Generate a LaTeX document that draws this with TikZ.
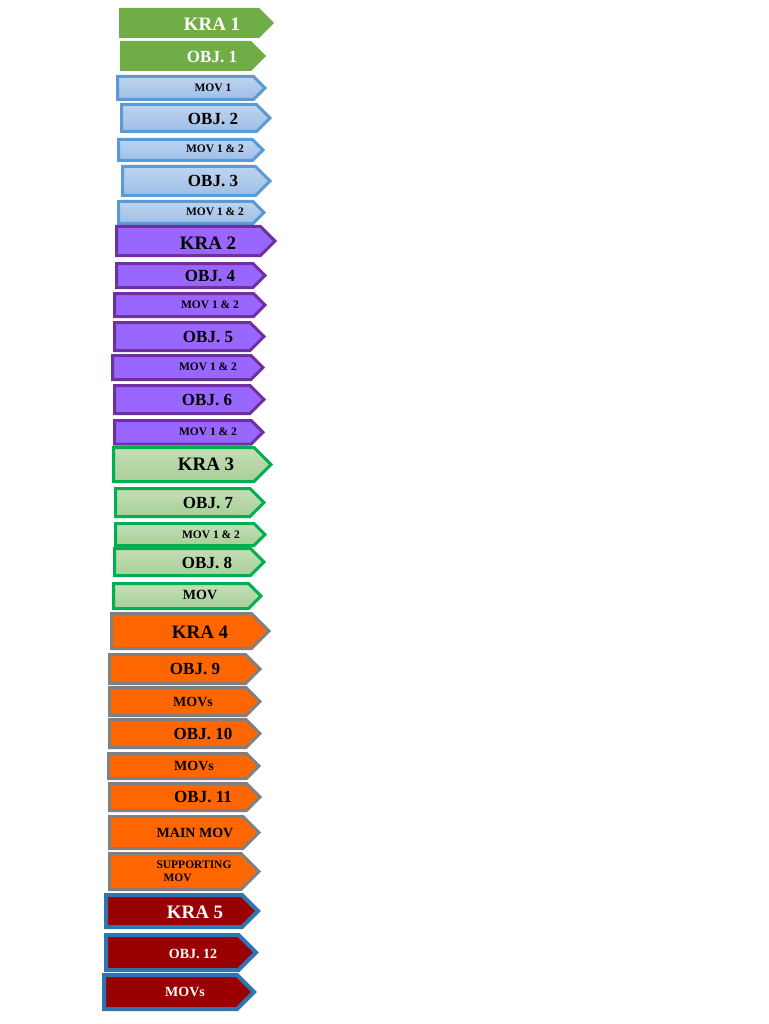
\documentclass[tikz,border=0pt]{standalone}
\usepackage{fontspec}
\setmainfont{Liberation Serif}
\usepackage{tikz}
\usetikzlibrary{shapes}

\definecolor{kragreen}{HTML}{70AD47}
\definecolor{blueedge}{HTML}{5B9BD5}
\definecolor{bluetop}{HTML}{BED4F0}
\definecolor{bluebot}{HTML}{9FBEE6}
\definecolor{purplefill}{HTML}{9966FF}
\definecolor{purpleedge}{HTML}{7030A0}
\definecolor{greenedge}{HTML}{00B050}
\definecolor{greentop}{HTML}{C3DEB6}
\definecolor{greenbot}{HTML}{A8CF98}
\definecolor{orangefill}{HTML}{FF6600}
\definecolor{grayedge}{HTML}{808080}
\definecolor{redfill}{HTML}{990000}
\definecolor{rededge}{HTML}{2E75B6}

% arrow tag: style, left, top, tip, bottom (pixel units)
\newcommand{\tagbox}[5]{%
  \draw[#1] (#2,#3) -- ({#4-(#5-#3)/2},#3) -- (#4,{(#3+#5)/2})
    -- ({#4-(#5-#3)/2},#5) -- (#2,#5) -- cycle;}

\tikzset{
  tagline/.style={line width=3pt, line join=miter},
  krastyle/.style={tagline, draw=kragreen, fill=kragreen},
  bluestyle/.style={tagline, draw=blueedge, top color=bluetop, bottom color=bluebot},
  purplestyle/.style={tagline, draw=purpleedge, fill=purplefill},
  greenstyle/.style={tagline, draw=greenedge, top color=greentop, bottom color=greenbot},
  orangestyle/.style={tagline, draw=grayedge, fill=orangefill},
  redstyle/.style={line width=4pt, line join=miter, draw=rededge, fill=redfill},
  big/.style={font=\fontsize{19}{19}\selectfont\bfseries, inner sep=0pt},
  mid/.style={font=\fontsize{17}{17}\selectfont\bfseries, inner sep=0pt},
  small/.style={font=\fontsize{11.5}{11.5}\selectfont\bfseries, inner sep=0pt},
  movs/.style={font=\fontsize{14}{14}\selectfont\bfseries, inner sep=0pt},
}

\begin{document}
\begin{tikzpicture}[x=1pt, y=-1pt]
  \useasboundingbox (0,0) rectangle (768,1024);

  % KRA 1
  \tagbox{krastyle}{120.5}{9.5}{272}{36.5}
  \tagbox{krastyle}{121.5}{42.5}{264}{69.5}
  \tagbox{bluestyle}{117.5}{76.5}{265}{99.5}
  \tagbox{bluestyle}{121.5}{104.5}{270}{131.5}
  \tagbox{bluestyle}{118.5}{139.5}{263}{160.5}
  \tagbox{bluestyle}{122.5}{166.5}{270}{195.5}
  \tagbox{bluestyle}{118.5}{201.5}{264}{223.5}
  \node[big, white] (kra1) at (212,24) {KRA 1};
  \node[mid, white] (obj1) at (212,57) {OBJ. 1};
  \node[small] (mov1) at (213,88) {MOV 1};
  \node[mid] (obj2) at (213,119) {OBJ. 2};
  \node[small] (mov2) at (215,149) {MOV 1 \& 2};
  \node[mid] (obj3) at (213,181) {OBJ. 3};
  \node[small] (mov3) at (215,212) {MOV 1 \& 2};

  % KRA 2
  \tagbox{purplestyle}{116.5}{226.5}{275}{255.5}
  \tagbox{purplestyle}{116.5}{263.5}{265}{287.5}
  \tagbox{purplestyle}{114.5}{293.5}{265}{316.5}
  \tagbox{purplestyle}{114.5}{322.5}{264}{350.5}
  \tagbox{purplestyle}{112.5}{355.5}{263}{379.5}
  \tagbox{purplestyle}{114.5}{385.5}{264}{413.5}
  \tagbox{purplestyle}{114.5}{420.5}{263}{444}
  \node[big] (kra2) at (208,243) {KRA 2};
  \node[mid] (obj4) at (210,276) {OBJ. 4};
  \node[small] (mov4) at (210,305) {MOV 1 \& 2};
  \node[mid] (obj5) at (208,337) {OBJ. 5};
  \node[small] (mov5) at (208,367) {MOV 1 \& 2};
  \node[mid] (obj6) at (207,400) {OBJ. 6};
  \node[small] (mov6) at (208,432) {MOV 1 \& 2};

  % KRA 3
  \tagbox{greenstyle}{113.5}{447.5}{271}{481.5}
  \tagbox{greenstyle}{115.5}{488.5}{264}{516.5}
  \tagbox{greenstyle}{115.5}{523.5}{265}{545.5}
  \tagbox{greenstyle}{114.5}{548.5}{264}{575.5}
  \tagbox{greenstyle}{113.5}{583.5}{261}{608.5}
  \node[big] (kra3) at (206,464) {KRA 3};
  \node[mid] (obj7) at (208,503) {OBJ. 7};
  \node[small] (mov7) at (211,535) {MOV 1 \& 2};
  \node[mid] (obj8) at (207,563) {OBJ. 8};
  \node[movs] (mov8) at (200,595) {MOV};

  % KRA 4
  \tagbox{orangestyle}{111.5}{613.5}{269}{648.5}
  \tagbox{orangestyle}{109.5}{654.5}{260}{683.5}
  \tagbox{orangestyle}{109.5}{687.5}{260}{715.5}
  \tagbox{orangestyle}{109.5}{719.5}{260}{747.5}
  \tagbox{orangestyle}{108.5}{753.5}{259}{778.5}
  \tagbox{orangestyle}{109.5}{783.5}{260}{810.5}
  \tagbox{orangestyle}{109.5}{816.5}{259}{848.5}
  \tagbox{orangestyle}{109.5}{853.5}{259}{889.5}
  \node[big] (kra4) at (200,632) {KRA 4};
  \node[mid] (obj9) at (195,669) {OBJ. 9};
  \node[movs] (mov9) at (193,702) {MOVs};
  \node[mid] (obj10) at (203,734) {OBJ. 10};
  \node[movs] (mov10) at (194,766) {MOVs};
  \node[mid] (obj11) at (203,797) {OBJ. 11};
  \node[movs] (mainmov) at (195,833) {MAIN MOV};
  \node[small, align=left] (suppmov) at (194,871)
    {SUPPORTING\\[1.5pt]\hspace*{7pt}MOV};

  % KRA 5
  \tagbox{redstyle}{106}{895}{258}{927}
  \tagbox{redstyle}{106}{935}{256}{970}
  \tagbox{redstyle}{104}{975}{254}{1009}
  \node[big, white] (kra5) at (195,912) {KRA 5};
  \node[movs, white] (obj12) at (193,954) {OBJ. 12};
  \node[movs, white] (mov12) at (185,992) {MOVs};
\end{tikzpicture}
\end{document}
